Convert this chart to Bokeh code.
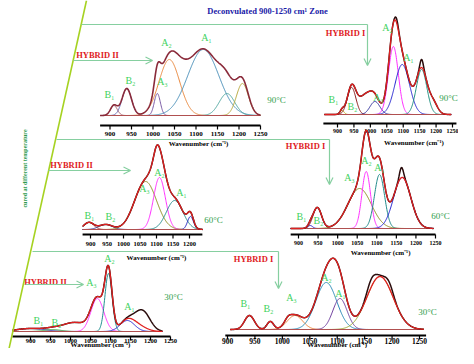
import numpy as np
from bokeh.plotting import figure
from bokeh.models import Range1d, Arrow, OpenHead
from bokeh.core.properties import value
from bokeh.embed import file_html
from bokeh.resources import INLINE

# ---------------- data ----------------
ticks_full = [900, 950, 1000, 1050, 1100, 1150, 1200, 1250]
ticks_short = [900, 950, 1000, 1050, 1100, 1150, 1200]

# Top-left: HYBRID II at 90 C
tl_labels = ["B₁", "B₂", "A₃", "A₂", "A₁", "", ""]
tl_centers = [909, 939, 1010, 1038, 1117, 1172, 1208]
tl_heights = [10, 27, 22, 56, 66, 22, 32]
tl_widths = [8, 11, 7, 24, 36, 18, 14]
tl_extra_c, tl_extra_h, tl_extra_w = [1072], [6], [18]
tl_exp_c, tl_exp_h, tl_exp_w = [], [], []

# Top-right: HYBRID I at 90 C
tr_labels = ["B₁", "B₂", "A₃", "A₂", "A₁", ""]
tr_centers = [914, 943, 1014, 1070, 1097, 1156]
tr_heights = [4, 27, 13, 68, 50, 45]
tr_widths = [6, 13, 15, 15, 22, 16]
tr_extra_c, tr_extra_h, tr_extra_w = [985, 1190], [19, 12], [22, 14]
tr_exp_c, tr_exp_h, tr_exp_w = [1156, 1080], [8, 4], [5, 5]

# Middle-left: HYBRID II at 60 C
ml_labels = ["B₁", "B₂", "A₃", "A₂", "A₁", ""]
ml_centers = [895, 946, 1067, 1109, 1155, 1203]
ml_heights = [7, 5, 48, 52, 29, 13]
ml_widths = [15, 20, 33, 18, 25, 9]
ml_extra_c, ml_extra_h, ml_extra_w = [1100], [6], [8]
ml_exp_c, ml_exp_h, ml_exp_w = [], [], []

# Middle-right: HYBRID I at 60 C
mr_labels = ["B₁", "B₂", "A₃", "A₂", "A₁", ""]
mr_centers = [930, 948, 1056, 1073, 1107, 1165]
mr_heights = [3, 21, 40, 57, 54, 51]
mr_widths = [6, 11, 30, 11, 13, 22]
mr_extra_c, mr_extra_h, mr_extra_w = [1090], [10], [15]
mr_exp_c, mr_exp_h, mr_exp_w = [1163], [10], [5]

# Bottom-left: HYBRID II at 30 C
bl_labels = ["B₁", "B₂", "A₃", "A₂", "A₁"]
bl_centers = [900, 955, 1067, 1095, 1142]
bl_heights = [3, 2, 33, 58, 11]
bl_widths = [35, 20, 16, 9, 18]
bl_extra_c, bl_extra_h, bl_extra_w = [1010, 1170], [9, 5], [30, 20]
bl_exp_c, bl_exp_h, bl_exp_w = [1182], [16], [18]

# Bottom-right: HYBRID I at 30 C
br_labels = ["B₁", "B₂", "A₃", "A₂", "A₁", ""]
br_centers = [940, 978, 1023, 1080, 1105, 1178]
br_heights = [14, 8, 14, 47, 31, 53]
br_widths = [9, 6, 14, 19, 13, 24]
br_extra_c, br_extra_h, br_extra_w = [1090, 1010], [14, 4], [14, 6]
br_exp_c, br_exp_h, br_exp_w = [1162, 1195], [8, 6], [8, 7]

temperatures = ["90°C", "90°C", "60°C", "60°C", "30°C", "30°C"]

# ---------------- styles / layout ----------------
SERIF = value("Liberation Serif")
GREEN_TXT = "#3fd25e"
TEMP_TXT = "#2f9e4c"
ARROW_C = "#86cfa0"
RED_TXT = "#e01b24"

p = figure(width=458, height=348, x_range=Range1d(0, 458), y_range=Range1d(348, 0),
           output_backend="svg", toolbar_location=None, x_axis_location=None,
           y_axis_location=None, min_border=0, outline_line_color=None,
           background_fill_color="white", border_fill_color="white")
p.xgrid.visible = False
p.ygrid.visible = False


def gauss(x, c, h, s):
    return h * np.exp(-0.5 * ((x - c) / s) ** 2)


panels = [
    dict(lab=tl_labels, c=tl_centers, h=tl_heights, w=tl_widths,
         ec=tl_extra_c, eh=tl_extra_h, ew=tl_extra_w, xc=tl_exp_c, xh=tl_exp_h, xw=tl_exp_w,
         colors=["#a8606e", "#6b6bb5", "#7a5aa5", "#ea8a40", "#4a90ba", "#4fa7a0", "#b9ab42"],
         px=(109.5, 260), base=115, xr=(877, 1250), axis=(877, 1250), axis_y=125, tl_y=133,
         ticks=ticks_full, title_y=143, title_x=1106, tick_fs="7px", single="#8a2a3a",
         lab_xy=[(109, 94), (130, 80), (162, 81), (166, 42), (206, 37), None, None],
         temp_xy=(276, 99)),
    dict(lab=tr_labels, c=tr_centers, h=tr_heights, w=tr_widths,
         ec=tr_extra_c, eh=tr_extra_h, ew=tr_extra_w, xc=tr_exp_c, xh=tr_exp_h, xw=tr_exp_w,
         colors=["#c4b020", "#8b1a1a", "#2a2a9a", "#ff2cff", "#2424d0", "#209080"],
         px=(337, 452), base=114, xr=(860, 1246), axis=(857, 1262), axis_y=123, tl_y=130,
         ticks=ticks_full, title_y=142, title_x=1133, tick_fs="6px", single=None,
         lab_xy=[(333, 99), (352, 106), (378, 97), (387, 27), (408, 57), None],
         temp_xy=(448, 97)),
    dict(lab=ml_labels, c=ml_centers, h=ml_heights, w=ml_widths,
         ec=ml_extra_c, eh=ml_extra_h, ew=ml_extra_w, xc=ml_exp_c, xh=ml_exp_h, xw=ml_exp_w,
         colors=["#b03030", "#303090", "#8b8b1a", "#ff30ff", "#208a8a", "#2020c0"],
         px=(90, 205.5), base=229, xr=(876, 1240), axis=(876, 1239), axis_y=234, tl_y=243,
         ticks=ticks_short, title_y=257, title_x=1100, tick_fs="6.5px", single=None,
         lab_xy=[(89, 215), (110, 216), (144, 188), (159, 172), (181, 192), None],
         temp_xy=(213, 219)),
    dict(lab=mr_labels, c=mr_centers, h=mr_heights, w=mr_widths,
         ec=mr_extra_c, eh=mr_extra_h, ew=mr_extra_w, xc=mr_exp_c, xh=mr_exp_h, xw=mr_exp_w,
         colors=["#2020d0", "#8b1a2a", "#8b8b1a", "#ff30ff", "#208a8a", "#2020d0"],
         px=(298, 435), base=228, xr=(880, 1245), axis=(880, 1250), axis_y=234, tl_y=242,
         ticks=ticks_full, title_y=252, title_x=1110, tick_fs="6px", single=None,
         lab_xy=[(301, 216), (318, 220), (349, 177), (366, 160), (379, 167), None],
         temp_xy=(440, 215)),
    dict(lab=bl_labels, c=bl_centers, h=bl_heights, w=bl_widths,
         ec=bl_extra_c, eh=bl_extra_h, ew=bl_extra_w, xc=bl_exp_c, xh=bl_exp_h, xw=bl_exp_w,
         colors=["#2020a0", "#40a040", "#ff30ff", "#209090", "#2020d0"],
         px=(30, 170), base=331, xr=(855, 1230), axis=(855, 1250), axis_y=336, tl_y=340.5,
         ticks=ticks_full, title_y=344.5, title_x=1075, tick_fs="6.5px", single=None,
         lab_xy=[(38, 320), (56, 322), (91, 282), (109, 258), (129, 306)],
         temp_xy=(173, 296)),
    dict(lab=br_labels, c=br_centers, h=br_heights, w=br_widths,
         ec=br_extra_c, eh=br_extra_h, ew=br_extra_w, xc=br_exp_c, xh=br_exp_h, xw=br_exp_w,
         colors=["#d48898", "#9868a8", "#f08030", "#2a8ab8", "#7040a0", "#98a830"],
         px=(227, 419), base=329, xr=(905, 1258), axis=(896, 1262), axis_y=335, tl_y=340,
         ticks=ticks_full, title_y=344.5, title_x=1100, tick_fs="7.5px", single=None,
         lab_xy=[(245, 303), (268, 308), (291, 297), (326, 277), (340, 293), None],
         temp_xy=(427, 311)),
]

for i, P in enumerate(panels):
    base = P["base"]
    sp = p.subplot(x_source=Range1d(900, 1250), y_source=Range1d(0, 100),
                   x_target=Range1d(P["px"][0], P["px"][1]),
                   y_target=Range1d(base, base - 100))
    x = np.linspace(P["xr"][0], P["xr"][1], 500)
    fit = np.zeros_like(x)
    for c, h, w, col in zip(P["c"], P["h"], P["w"], P["colors"]):
        y = gauss(x, c, h, w)
        fit += y
        sp.line(x, y, line_color=col, line_width=1)
    for c, h, w in zip(P["ec"], P["eh"], P["ew"]):
        fit += gauss(x, c, h, w)
    exp_ = fit.copy()
    for c, h, w in zip(P["xc"], P["xh"], P["xw"]):
        exp_ += gauss(x, c, h, w)
    sp.line([P["xr"][0], P["xr"][1]], [0, 0], line_color="#b05050", line_width=1.2)
    if P["single"]:
        sp.line(x, fit, line_color=P["single"], line_width=1.6)
    else:
        sp.line(x, exp_, line_color="#2a0c0c", line_width=1.5)
        sp.line(x, fit, line_color="#e02020", line_width=1.3)

    # axis
    ay = base - P["axis_y"]
    sp.segment(x0=[P["axis"][0]], y0=[ay], x1=[P["axis"][1]], y1=[ay],
               line_color="black", line_width=2)
    tv = P["ticks"]
    sp.segment(x0=tv, y0=[ay] * len(tv), x1=tv, y1=[ay - 4] * len(tv),
               line_color="black", line_width=1.2)
    sp.text(x=tv, y=[base - P["tl_y"]] * len(tv), text=[str(t) for t in tv],
            text_font=SERIF, text_font_style="bold", text_font_size=P["tick_fs"],
            text_align="center", text_baseline="middle", text_color="black")
    sp.text(x=[P["title_x"]], y=[base - P["title_y"]], text=["Wavenumber (cm⁻¹)"],
            text_font=SERIF, text_font_style="bold", text_font_size="7px",
            text_align="center", text_baseline="middle", text_color="black")

    # component labels
    lx, ly, lt = [], [], []
    for lab, xy in zip(P["lab"], P["lab_xy"]):
        if lab and xy:
            lx.append(xy[0]); ly.append(xy[1]); lt.append(lab)
    p.text(x=lx, y=ly, text=lt, text_font=SERIF, text_font_size="10px",
           text_color=GREEN_TXT, text_align="center", text_baseline="middle")
    p.text(x=[P["temp_xy"][0]], y=[P["temp_xy"][1]], text=[temperatures[i]],
           text_font=SERIF, text_font_size="9px", text_color=TEMP_TXT,
           text_align="center", text_baseline="middle")

# ---------------- decorations ----------------
p.text(x=[267], y=[10], text=["Deconvulated 900-1250 cm¹ Zone"], text_font=SERIF,
       text_font_style="bold", text_font_size="8.5px", text_color="#1a1aa8",
       text_align="center", text_baseline="middle")
p.line([86, 5], [0, 364], line_color="#a6d222", line_width=1.6)
p.text(x=[24], y=[168], text=["cured at different temperature"], angle=np.pi / 2,
       text_font=SERIF, text_font_style="bold", text_font_size="6px",
       text_color="#2e9a4e", text_align="center", text_baseline="middle")

hyb = [("HYBRID I", 345, 32), ("HYBRID II", 97, 54), ("HYBRID I", 305, 145),
       ("HYBRID II", 71, 164), ("HYBRID I", 253, 258), ("HYBRID II", 45, 281)]
p.text(x=[h[1] for h in hyb], y=[h[2] for h in hyb], text=[h[0] for h in hyb],
       text_font=SERIF, text_font_style="bold", text_font_size="8.5px",
       text_color=RED_TXT, text_align="center", text_baseline="middle")

# connector lines with open arrow heads
p.line([81, 367], [24, 24], line_color=ARROW_C, line_width=1.2)
p.add_layout(Arrow(x_start=367, y_start=24, x_end=367, y_end=65, line_color=ARROW_C,
                   line_width=1.2, end=OpenHead(size=7, line_color=ARROW_C, line_width=1.2)))
p.add_layout(Arrow(x_start=73, y_start=60, x_end=152, y_end=60, line_color=ARROW_C,
                   line_width=1.2, end=OpenHead(size=7, line_color=ARROW_C, line_width=1.2)))
p.line([56, 329], [139, 139], line_color=ARROW_C, line_width=1.2)
p.add_layout(Arrow(x_start=329, y_start=139, x_end=329, y_end=184, line_color=ARROW_C,
                   line_width=1.2, end=OpenHead(size=7, line_color=ARROW_C, line_width=1.2)))
p.add_layout(Arrow(x_start=48, y_start=170, x_end=130, y_end=170, line_color=ARROW_C,
                   line_width=1.2, end=OpenHead(size=7, line_color=ARROW_C, line_width=1.2)))
p.line([32, 278], [251, 251], line_color=ARROW_C, line_width=1.2)
p.add_layout(Arrow(x_start=278, y_start=251, x_end=278, y_end=288, line_color=ARROW_C,
                   line_width=1.2, end=OpenHead(size=7, line_color=ARROW_C, line_width=1.2)))
p.add_layout(Arrow(x_start=25, y_start=284, x_end=83, y_end=284, line_color=ARROW_C,
                   line_width=1.2, end=OpenHead(size=7, line_color=ARROW_C, line_width=1.2)))

open("out.html", "w").write(file_html(p, INLINE))
